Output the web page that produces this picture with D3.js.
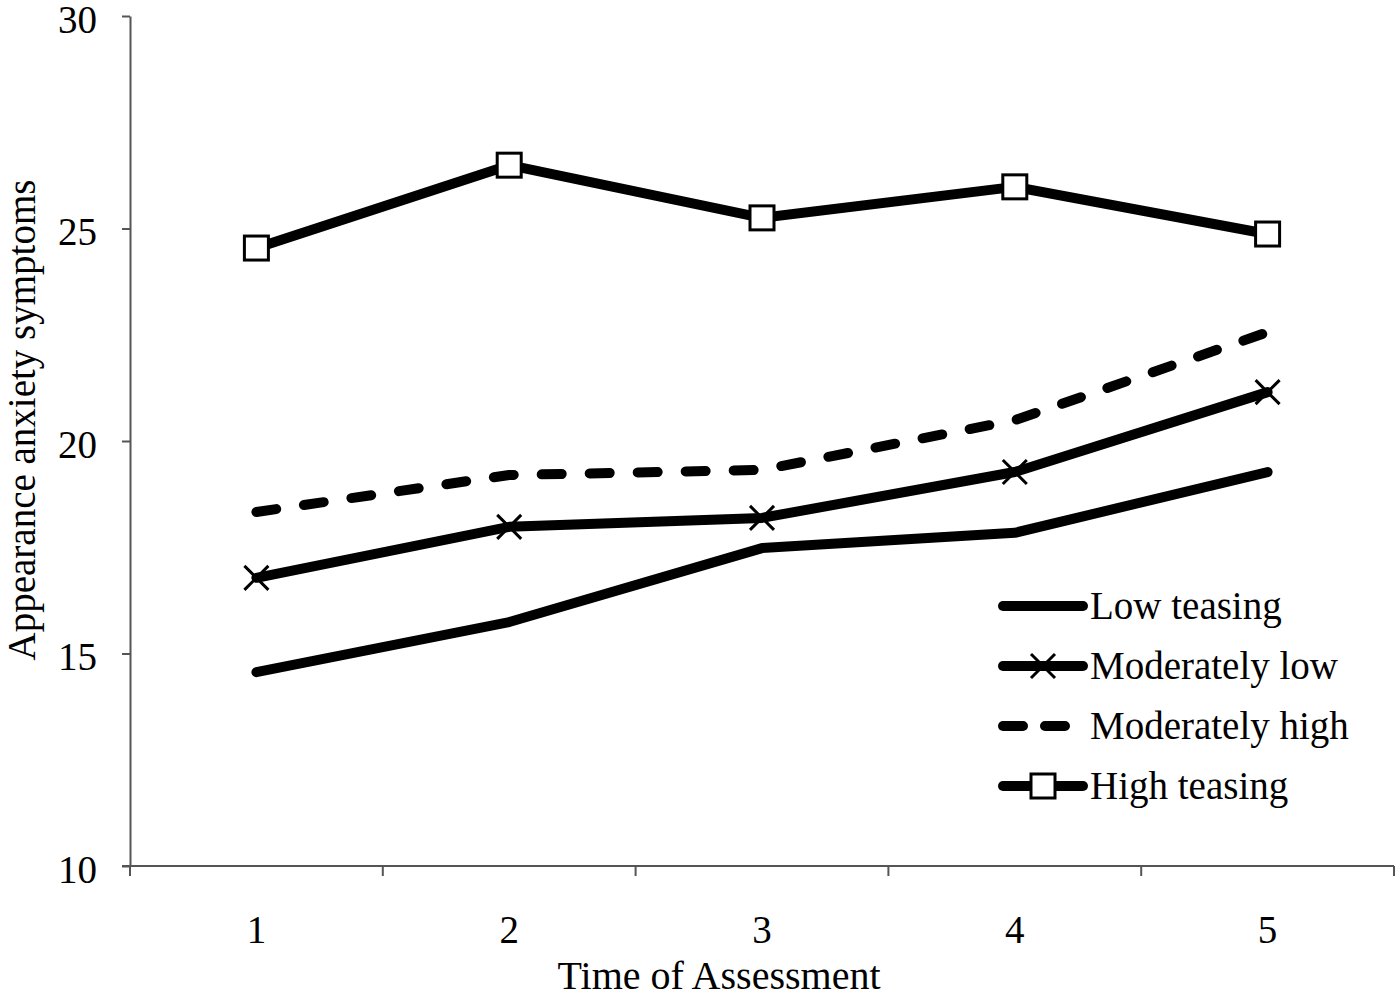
<!DOCTYPE html>
<html>
<head>
<meta charset="utf-8">
<script src="https://cdn.jsdelivr.net/npm/d3@7"></script>
<style>
  html, body { margin: 0; padding: 0; background: #fff; }
  svg { display: block; font-family: "Liberation Serif", "DejaVu Serif", serif; }
  .axis path, .axis line { stroke: #555; stroke-width: 2; }
  .axis text { font-size: 39px; fill: #000; font-family: "Liberation Serif", serif; }
</style>
</head>
<body>
<svg id="chart" width="1400" height="998"></svg>
<script>
const times = ["1", "2", "3", "4", "5"];
const yTicks = [10, 15, 20, 25, 30];

const lowTeasing = [14.56, 15.74, 17.48, 17.84, 19.27];
const modLow = [16.78, 17.98, 18.19, 19.27, 21.15];
const modHigh = [18.33, 19.2, 19.32, 20.49, 22.56];
const highTeasing = [24.54, 26.49, 25.25, 25.98, 24.87];

const series = [
  { name: "Low teasing", values: lowTeasing, dash: null, marker: null },
  { name: "Moderately low", values: modLow, dash: null, marker: "x" },
  { name: "Moderately high", values: modHigh, dash: "20,28", marker: null },
  { name: "High teasing", values: highTeasing, dash: null, marker: "square" }
];

const svg = d3.select("#chart");
const m = { left: 130, right: 1394, top: 16, bottom: 866 };

const x = d3.scaleBand().domain(times).range([m.left, m.right]);
const y = d3.scaleLinear().domain([10, 30]).range([m.bottom, m.top]);
const cx = (d) => x(d) + x.bandwidth() / 2;

// axes
const yAxis = svg.append("g").attr("class", "axis")
  .attr("transform", `translate(${m.left},0)`)
  .call(d3.axisLeft(y).tickValues(yTicks).tickSize(8).tickPadding(25).tickSizeOuter(0));
yAxis.selectAll("text").attr("dy", "0.42em");

const xAxis = svg.append("g").attr("class", "axis")
  .attr("transform", `translate(0,${m.bottom})`)
  .call(d3.axisBottom(x).tickSize(0).tickPadding(49));
xAxis.select(".domain").remove();
xAxis.append("line").attr("x1", m.left - 8).attr("x2", m.right).attr("stroke", "#555").attr("stroke-width", 2);
xAxis.selectAll("line.sep").data(d3.range(times.length + 1)).join("line").attr("class", "sep")
  .attr("x1", (i) => m.left + i * x.bandwidth()).attr("x2", (i) => m.left + i * x.bandwidth())
  .attr("y1", 0).attr("y2", 10);

// titles
svg.append("text").attr("x", 719).attr("y", 989).attr("text-anchor", "middle")
  .attr("font-size", 40).text("Time of Assessment");
svg.append("text").attr("transform", "translate(35,420) rotate(-90)").attr("text-anchor", "middle")
  .attr("font-size", 39).text("Appearance anxiety symptoms");

const line = d3.line().x((d, i) => cx(times[i])).y((d) => y(d));

function drawMarker(g, type, px, py) {
  if (type === "square") {
    g.append("rect").attr("x", px - 12).attr("y", py - 12).attr("width", 24).attr("height", 24)
      .attr("fill", "#fff").attr("stroke", "#000").attr("stroke-width", 3);
  } else if (type === "x") {
    const s = 12;
    g.append("path").attr("d", `M${px - s},${py - s}L${px + s},${py + s}M${px - s},${py + s}L${px + s},${py - s}`)
      .attr("stroke", "#000").attr("stroke-width", 3).attr("fill", "none");
  }
}

series.forEach((s) => {
  const g = svg.append("g");
  g.append("path").datum(s.values).attr("d", line)
    .attr("fill", "none").attr("stroke", "#000").attr("stroke-width", 10)
    .attr("stroke-linecap", "round").attr("stroke-linejoin", "round")
    .attr("stroke-dasharray", s.dash);
  if (s.marker) s.values.forEach((v, i) => drawMarker(g, s.marker, cx(times[i]), y(v)));
});

// legend
const leg = svg.append("g");
series.forEach((s, i) => {
  const ly = 606 + i * 60;
  const g = leg.append("g");
  g.append("line").attr("x1", 1003).attr("x2", 1083).attr("y1", ly).attr("y2", ly)
    .attr("stroke", "#000").attr("stroke-width", 10).attr("stroke-linecap", "round")
    .attr("stroke-dasharray", s.dash ? "20,22" : null);
  if (s.marker) drawMarker(g, s.marker, 1043, ly);
  g.append("text").attr("x", 1090).attr("y", ly).attr("dy", "0.34em").attr("font-size", 39).text(s.name);
});
</script>
</body>
</html>
